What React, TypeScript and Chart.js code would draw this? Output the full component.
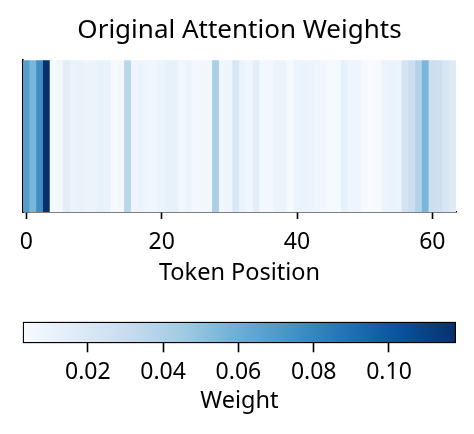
import React, { useEffect, useRef } from 'react';
import { Chart, registerables } from 'chart.js';

Chart.register(...registerables);

// Attention weight per token position (0..63)
const WEIGHTS: number[] = [
  0.068, 0.056, 0.076, 0.1178, 0.004, 0.006, 0.015, 0.010,
  0.011, 0.009, 0.009, 0.012, 0.011, 0.004, 0.005, 0.036,
  0.008, 0.009, 0.007, 0.007, 0.009, 0.012, 0.012, 0.006,
  0.009, 0.005, 0.006, 0.006, 0.042, 0.007, 0.008, 0.021,
  0.009, 0.007, 0.014, 0.005, 0.005, 0.009, 0.009, 0.004,
  0.009, 0.010, 0.009, 0.008, 0.006, 0.004, 0.004, 0.012,
  0.008, 0.008, 0.004, 0.0027, 0.004, 0.009, 0.010, 0.009,
  0.024, 0.029, 0.038, 0.056, 0.028, 0.027, 0.022, 0.017,
];
const TOKENS: number[] = WEIGHTS.map((_, i) => i);
const X_TICKS: number[] = [0, 20, 40, 60];
const CBAR_TICKS: number[] = [0.02, 0.04, 0.06, 0.08, 0.10];
const BLUES: string[] = ['#f7fbff', '#deebf7', '#c6dbef', '#9ecae1', '#6baed6', '#4292c6', '#2171b5', '#08519c', '#08306b'];

const TITLE = 'Original Attention Weights';
const X_TITLE = 'Token Position';
const CBAR_TITLE = 'Weight';

const VMIN = Math.min(...WEIGHTS);
const VMAX = Math.max(...WEIGHTS);
const FONT = "'Noto Sans', sans-serif";

function hexRgb(h: string): number[] {
  return [parseInt(h.slice(1, 3), 16), parseInt(h.slice(3, 5), 16), parseInt(h.slice(5, 7), 16)];
}
function blues(t: number): string {
  const tt = Math.max(0, Math.min(1, t));
  const n = BLUES.length - 1;
  const p = tt * n;
  const i = Math.min(Math.floor(p), n - 1);
  const f = p - i;
  const a = hexRgb(BLUES[i]);
  const b = hexRgb(BLUES[i + 1]);
  return `rgb(${a.map((v, k) => Math.round(v + (b[k] - v) * f)).join(',')})`;
}

export default function App() {
  const heatRef = useRef<HTMLCanvasElement>(null);
  const cbarRef = useRef<HTMLCanvasElement>(null);

  useEffect(() => {
    const heat = new Chart(heatRef.current!, {
      type: 'bar',
      data: {
        datasets: [
          {
            data: TOKENS.map((t) => ({ x: t, y: 1 })),
            backgroundColor: WEIGHTS.map((w) => blues((w - VMIN) / (VMAX - VMIN))),
            borderWidth: 0,
            barPercentage: 1,
            categoryPercentage: 1,
          } as any,
        ],
      },
      options: {
        responsive: false,
        animation: false,
        events: [],
        layout: { padding: { left: 23, right: 18, top: 0, bottom: 0 } },
        plugins: {
          legend: { display: false },
          tooltip: { enabled: false },
          title: {
            display: true,
            text: TITLE,
            color: '#000',
            font: { family: FONT, size: 26, weight: 'normal' as any },
            padding: { top: 15, bottom: 14 },
          },
        },
        scales: {
          x: {
            type: 'linear',
            min: -0.5,
            max: 63.5,
            offset: false,
            z: 1,
            afterBuildTicks: (s: any) => {
              s.ticks = X_TICKS.map((v) => ({ value: v }));
            },
            afterFit: (s: any) => {
              s.height = 88;
            },
            grid: {
              offset: false,
              color: 'rgba(170,176,196,0.55)',
              lineWidth: 1,
              drawTicks: true,
              tickLength: 7,
              tickColor: '#000',
              tickWidth: 1.6,
              tickBorderDash: [],
            } as any,
            border: { display: true, color: '#000', width: 1.6, dash: [4, 3] },
            ticks: {
              color: '#000',
              font: { family: FONT, size: 23 },
              padding: 9.5,
              maxRotation: 0,
              autoSkip: false,
              callback: (v: any) => String(v),
            },
            title: {
              display: true,
              text: X_TITLE,
              color: '#000',
              font: { family: FONT, size: 23.5 },
              padding: { top: 0, bottom: 12.5 },
            },
          },
          y: {
            type: 'linear',
            min: 0,
            max: 1,
            grid: { display: false, drawTicks: false },
            ticks: { display: false },
            border: { display: true, color: '#000', width: 1.6 },
          },
        },
      },
    });

    const cbar = new Chart(cbarRef.current!, {
      type: 'bar',
      data: {
        labels: [CBAR_TITLE],
        datasets: [
          {
            data: [[VMIN, VMAX]],
            backgroundColor: (c: any) => {
              const area = c.chart.chartArea;
              if (!area) return BLUES[4];
              const g = c.chart.ctx.createLinearGradient(area.left, 0, area.right, 0);
              BLUES.forEach((col, i) => g.addColorStop(i / (BLUES.length - 1), col));
              return g;
            },
            borderColor: '#000',
            borderWidth: 1.6,
            borderSkipped: false,
            barPercentage: 1,
            categoryPercentage: 1,
          } as any,
        ],
      },
      options: {
        indexAxis: 'y',
        responsive: false,
        animation: false,
        events: [],
        layout: { padding: { left: 22.7, right: 18, top: 21.7, bottom: 0 } },
        plugins: { legend: { display: false }, tooltip: { enabled: false } },
        scales: {
          x: {
            type: 'linear',
            min: VMIN,
            max: VMAX,
            afterBuildTicks: (s: any) => {
              s.ticks = CBAR_TICKS.map((v) => ({ value: v }));
            },
            afterFit: (s: any) => {
              s.height = 90.7;
            },
            grid: {
              display: true,
              drawOnChartArea: false,
              drawTicks: true,
              tickLength: 9,
              tickColor: '#000',
              tickWidth: 1.6,
            },
            border: { display: false },
            ticks: {
              color: '#000',
              font: { family: FONT, size: 23 },
              padding: 6.4,
              maxRotation: 0,
              autoSkip: false,
              callback: (v: any) => Number(v).toFixed(2),
            },
            title: {
              display: true,
              text: CBAR_TITLE,
              color: '#000',
              font: { family: FONT, size: 23.5 },
              padding: { top: 0, bottom: 18.9 },
            },
          },
          y: { display: false },
        },
      },
    });

    return () => {
      heat.destroy();
      cbar.destroy();
    };
  }, []);

  return (
    <div style={{ position: 'absolute', left: 0, top: 0, width: 474, height: 434, background: '#fff' }}>
      <canvas ref={heatRef} width={474} height={300} style={{ position: 'absolute', left: 0, top: 0 }} />
      <canvas ref={cbarRef} width={474} height={134} style={{ position: 'absolute', left: 0, top: 300 }} />
    </div>
  );
}
